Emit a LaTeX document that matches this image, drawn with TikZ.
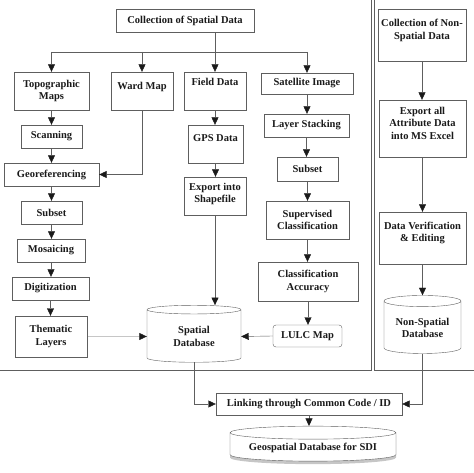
\documentclass[tikz,border=0pt]{standalone}
\usepackage{fontspec}
\setmainfont{Liberation Serif}
\usetikzlibrary{arrows.meta,shapes.geometric,shadows}
\definecolor{rahmen}{HTML}{5E5E5E}
\definecolor{schrift}{HTML}{1A1A1A}
\begin{document}
\begin{tikzpicture}[x=1pt,y=-1pt,
	box/.style={draw=rahmen,fill=white,align=center,text=schrift,inner sep=1pt,
		font=\fontsize{10.5}{12.5}\selectfont\bfseries},
	lift/.style={text depth=#1},
	db/.style={box,cylinder,shape border rotate=90,aspect=0.2},
	arr/.style={draw=rahmen,-{Triangle[length=7.5pt,width=7pt,color=schrift,fill=schrift]}},
	line/.style={draw=rahmen}]
	\useasboundingbox (0,0) rectangle (474,473);
	% Rahmen der beiden Teile
	\draw[line] (371.5,0) -- (371.5,370) -- (0,370);
	\draw[line] (374.5,0) -- (374.5,370) -- (474,370);
	% Kopf
	\node[box,minimum width=138,minimum height=23] (coll) at (185,20.5) {Collection of Spatial Data};
	\node[box,minimum width=75,minimum height=38] (topo) at (51.5,91) {Topographic\\Maps};
	\node[box,minimum width=62,minimum height=38,lift=10] (ward) at (142,91) {Ward Map};
	\node[box,minimum width=62,minimum height=38,lift=18] (field) at (215,91) {Field Data};
	\node[box,minimum width=92,minimum height=21] (sat) at (307,83.5) {Satellite Image};
	% linke Spalte
	\node[box,minimum width=61,minimum height=23] (scan) at (51.5,136.5) {Scanning};
	\node[box,minimum width=95,minimum height=23] (geo) at (51.5,174.5) {Georeferencing};
	\node[box,minimum width=61,minimum height=23] (subL) at (51.5,212.5) {Subset};
	\node[box,minimum width=68,minimum height=23] (mosa) at (51,250.5) {Mosaicing};
	\node[box,minimum width=77,minimum height=23] (digi) at (50.5,288.5) {Digitization};
	\node[box,minimum width=72,minimum height=41] (them) at (51,336.5) {Thematic\\Layers};
	% Feldaufnahme
	\node[box,minimum width=55,minimum height=38,lift=12] (gps) at (215.5,144) {GPS Data};
	\node[box,minimum width=62,minimum height=38,lift=6] (shp) at (215,196) {Export into\\Shapefile};
	% Satellitenbild
	\node[box,minimum width=85,minimum height=23] (stack) at (306.5,125.5) {Layer Stacking};
	\node[box,minimum width=61,minimum height=24] (subR) at (307.5,169) {Subset};
	\node[box,minimum width=83,minimum height=38] (sup) at (307.5,220) {Supervised\\Classification};
	\node[box,minimum width=100,minimum height=39] (acc) at (308,281.5) {Classification\\Accuracy};
	\node[box,rounded corners=3pt,minimum width=69,minimum height=22] (lulc) at (307.5,336) {LULC Map};
	\node[db,minimum width=94,minimum height=57] (sdb) at (194,336.5) {Spatial\\Database};
	% rechter Teil
	\node[box,minimum width=88,minimum height=52,lift=11] (ncoll) at (422,35) {Collection of Non-\\Spatial Data};
	\node[box,minimum width=87,minimum height=57,lift=11] (xls) at (422.5,128.5) {Export all\\Attribute Data\\into MS Excel};
	\node[box,minimum width=87,minimum height=52,lift=12] (verif) at (422.5,238) {Data Verification\\\& Editing};
	\node[db,minimum width=77,minimum height=58] (nsdb) at (422.5,328) {Non-Spatial\\Database};
	% unten
	\node[box,minimum width=186,minimum height=22] (link) at (309,404) {Linking through Common Code / ID};
	\node[db,aspect=0.1,minimum width=166,minimum height=35,
		drop shadow={shadow xshift=0pt,shadow yshift=-3pt,opacity=0.45}] (geodb) at (313,447.5) {Geospatial Database for SDI};
	% Verteiler
	\coordinate (bus) at (216,52);
	\draw[line] (bus -| topo) -- (bus -| sat);
	\draw[arr] (coll.south -| field) -- (field.north);
	\foreach \n in {topo,ward,sat}
		\draw[arr] (bus -| \n) -- (\n.north);
	% Pfeile
	\foreach \a/\b in {topo/scan,scan/geo,geo/subL,subL/mosa,mosa/digi,digi/them,
		field/gps,gps/shp,shp/sdb,sat/stack,stack/subR,subR/sup,sup/acc,acc/lulc,
		ncoll/xls,xls/verif,verif/nsdb,link/geodb}
		\draw[arr] (\a.south) -- (\a.south |- \b.north);
	\draw[arr] (ward.south) |- (geo.east);
	\draw[arr] (them.east) -- (sdb.west);
	\draw[arr] (lulc.west) -- (sdb.east);
	\draw[arr] (sdb.south) |- (link.west);
	\draw[arr] (nsdb.south) |- (link.east);
\end{tikzpicture}
\end{document}
